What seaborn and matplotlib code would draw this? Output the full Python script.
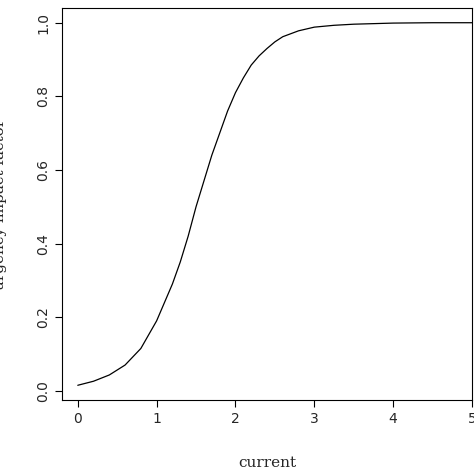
import matplotlib
matplotlib.use("Agg")
import matplotlib.pyplot as plt
import seaborn as sns
import pandas as pd

current = [0, 0.2, 0.4, 0.6, 0.8, 1.0, 1.1, 1.2, 1.3, 1.4, 1.5, 1.6, 1.7, 1.8, 1.9, 2.0,
           2.1, 2.2, 2.3, 2.4, 2.5, 2.6, 2.8, 3.0, 3.25, 3.5, 4.0, 4.5, 5.0]
factor = [0.015, 0.026, 0.043, 0.07, 0.115, 0.19, 0.24, 0.29, 0.35, 0.42, 0.50, 0.57, 0.64,
          0.70, 0.76, 0.81, 0.85, 0.885, 0.91, 0.93, 0.948, 0.962, 0.978, 0.988, 0.993, 0.996,
          0.999, 1.0, 1.0]
df = pd.DataFrame({"current": current, "factor": factor})

sns.set_style("ticks")
fig = plt.figure(figsize=(4.74, 4.74), dpi=100)
ax = fig.add_axes([62/474, 74/474, 410/474, 392/474])
sns.lineplot(data=df, x="current", y="factor", color="black", linewidth=0.9, ax=ax)

ax.set_xlim(-0.2, 5.0)
ax.set_ylim(-0.025, 1.04)
ax.set_xticks([0, 1, 2, 3, 4, 5])
ax.set_yticks([0.0, 0.2, 0.4, 0.6, 0.8, 1.0])
ax.set_yticklabels(["0.0", "0.2", "0.4", "0.6", "0.8", "1.0"], rotation=90, va="center")
ax.tick_params(labelsize=10, length=5, color="black")
for s in ax.spines.values():
    s.set_visible(True)
    s.set_color("black")
ax.set_xlabel("current", family="DejaVu Serif", fontsize=11, labelpad=22)
ax.set_ylabel("urgency impact factor", family="DejaVu Serif", fontsize=11)
ax.yaxis.set_label_coords(-0.135, 0.5)
fig.savefig("out.png", dpi=100)
